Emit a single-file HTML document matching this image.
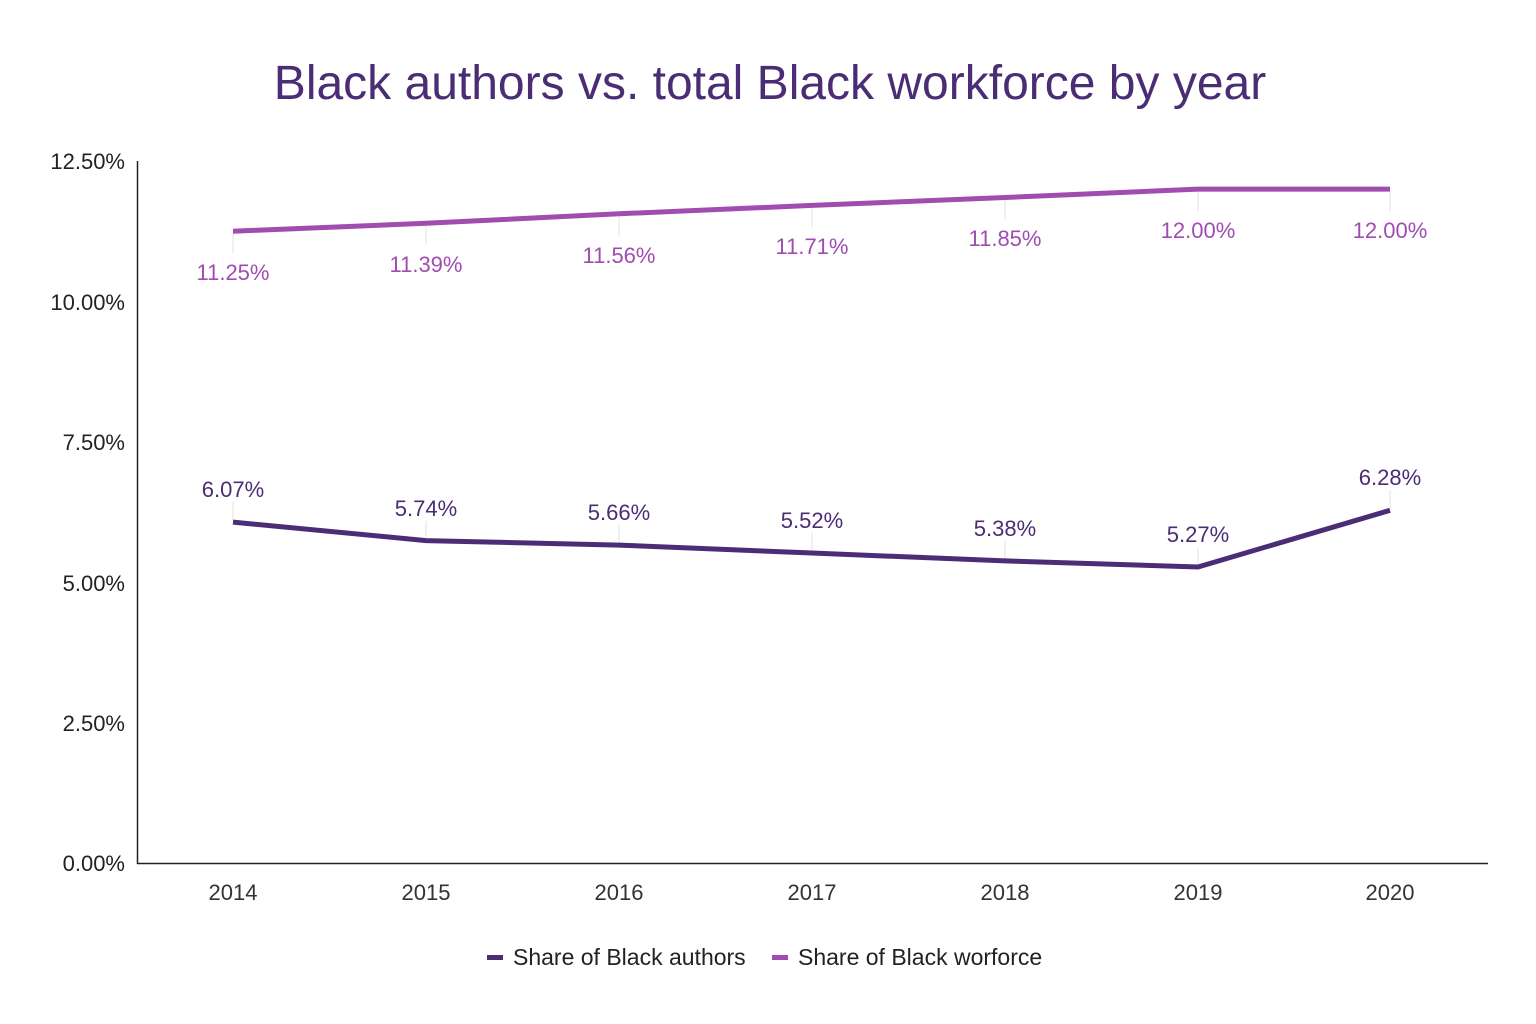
<!DOCTYPE html>
<html><head><meta charset="utf-8"><style>
html,body{margin:0;padding:0;background:#fff;}
svg{display:block;font-family:"Liberation Sans",sans-serif;}
</style></head><body>
<svg width="1536" height="1024" viewBox="0 0 1536 1024" xmlns="http://www.w3.org/2000/svg">
<rect width="1536" height="1024" fill="#fff"/>
<text x="770" y="99" text-anchor="middle" font-size="48" fill="#4a2d74">Black authors vs. total Black workforce by year</text>
<g font-size="22" fill="#222" text-anchor="end">
<text x="125" y="169">12.50%</text>
<text x="125" y="310">10.00%</text>
<text x="125" y="450">7.50%</text>
<text x="125" y="591">5.00%</text>
<text x="125" y="731">2.50%</text>
<text x="125" y="871">0.00%</text>
</g>
<line x1="137.5" y1="161" x2="137.5" y2="864" stroke="#222" stroke-width="1.5"/>
<line x1="137" y1="863.5" x2="1488" y2="863.5" stroke="#222" stroke-width="1.5"/>
<g font-size="22" fill="#333" text-anchor="middle">
<text x="233" y="900">2014</text><text x="426" y="900">2015</text><text x="619" y="900">2016</text><text x="812" y="900">2017</text><text x="1005" y="900">2018</text><text x="1198" y="900">2019</text><text x="1390" y="900">2020</text>
</g>
<!-- leader lines -->
<g stroke="#e6e6e6" stroke-width="1.2">
<line x1="233" y1="233" x2="233" y2="253"/><line x1="426" y1="225" x2="426" y2="245"/><line x1="619" y1="216" x2="619" y2="236"/><line x1="812" y1="207" x2="812" y2="227"/><line x1="1005" y1="199" x2="1005" y2="219"/><line x1="1198" y1="191" x2="1198" y2="211"/><line x1="1390" y1="191" x2="1390" y2="211"/>
<line x1="233" y1="502" x2="233" y2="520"/><line x1="426" y1="521" x2="426" y2="539"/><line x1="619" y1="525" x2="619" y2="543"/><line x1="812" y1="533" x2="812" y2="551"/><line x1="1005" y1="541" x2="1005" y2="559"/><line x1="1198" y1="547" x2="1198" y2="565"/><line x1="1390" y1="490" x2="1390" y2="508"/>
</g>
<polyline fill="none" stroke="#a04cb0" stroke-width="5" points="233,231.2 426,223.3 619,213.8 812,205.4 1005,197.5 1198,189.1 1390,189.1"/>
<polyline fill="none" stroke="#4a2d74" stroke-width="5" points="233,522.1 426,540.6 619,545.1 812,553 1005,560.9 1198,567 1390,510.3"/>
<g font-size="22" fill="#a04cb0" text-anchor="middle">
<text x="233" y="280">11.25%</text><text x="426" y="272">11.39%</text><text x="619" y="263">11.56%</text><text x="812" y="254">11.71%</text><text x="1005" y="246">11.85%</text><text x="1198" y="238">12.00%</text><text x="1390" y="238">12.00%</text>
</g>
<g font-size="22" fill="#4a2d74" text-anchor="middle">
<text x="233" y="497">6.07%</text><text x="426" y="516">5.74%</text><text x="619" y="520">5.66%</text><text x="812" y="528">5.52%</text><text x="1005" y="536">5.38%</text><text x="1198" y="542">5.27%</text><text x="1390" y="485">6.28%</text>
</g>
<rect x="487" y="955" width="16" height="5" fill="#4a2d74"/>
<text x="513" y="965" font-size="23" fill="#222">Share of Black authors</text>
<rect x="772" y="955" width="16" height="5" fill="#a04cb0"/>
<text x="798" y="965" font-size="23" fill="#222">Share of Black worforce</text>
</svg>
</body></html>
